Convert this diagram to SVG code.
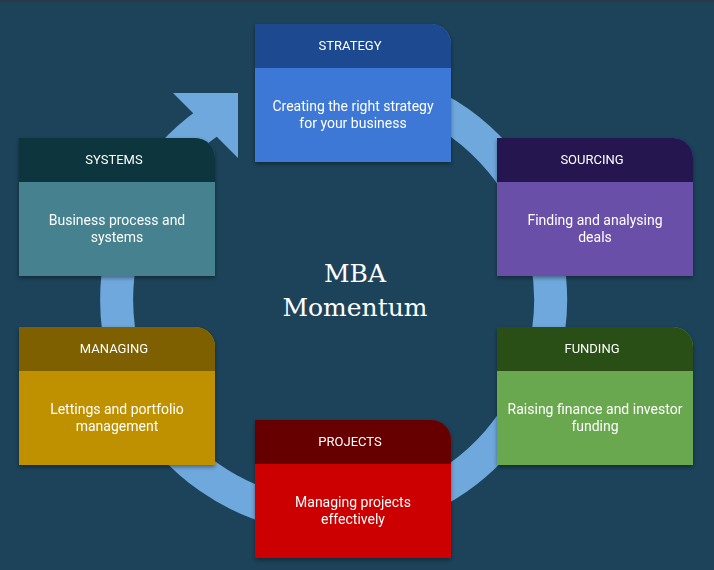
<svg xmlns="http://www.w3.org/2000/svg" width="714" height="570" viewBox="0 0 714 570">
<defs>
<filter id="sh" x="-10%" y="-10%" width="120%" height="130%"><feDropShadow dx="0" dy="2" stdDeviation="2" flood-color="#000" flood-opacity="0.4"/></filter>
</defs>
<style>
.h{font-family:Roboto,"Liberation Sans",sans-serif;font-size:13px;fill:#fff;text-anchor:middle}
.b{font-family:Roboto,"Liberation Sans",sans-serif;font-size:14px;fill:#fff;text-anchor:middle}
.t{font-family:"DejaVu Serif","Liberation Serif",serif;font-size:25px;fill:#fff;text-anchor:middle}
</style>
<rect width="714" height="570" fill="#1c435a"/>
<rect width="714" height="2" fill="#2a3a44"/>
<g id="connectors">
<path d="M 208.1 122.6 A 217 217 0 1 0 316.3 83.3" fill="none" stroke="#6fa8dc" stroke-width="33"/>
<polygon points="173,93 238,93 238,158" fill="#6fa8dc"/>
</g>
<text class="t" x="355" y="282">MBA</text>
<text class="t" x="355" y="316">Momentum</text>
<g id="strategy" filter="url(#sh)">
<path d="M255 24 H431 A20 20 0 0 1 451 44 V162 H255 Z" fill="#3d78d6"/>
<path d="M255 24 H431 A20 20 0 0 1 451 44 V68 H255 Z" fill="#1f4a8f"/>
<text class="h" x="350" y="50">STRATEGY</text>
<text class="b" x="353" y="111">Creating the right strategy</text>
<text class="b" x="353" y="128">for your business</text>
</g>
<g id="sourcing" filter="url(#sh)">
<path d="M497 138 H673 A20 20 0 0 1 693 158 V276 H497 Z" fill="#6a4fa8"/>
<path d="M497 138 H673 A20 20 0 0 1 693 158 V182 H497 Z" fill="#25174f"/>
<text class="h" x="592" y="164">SOURCING</text>
<text class="b" x="595" y="225">Finding and analysing</text>
<text class="b" x="595" y="242">deals</text>
</g>
<g id="funding" filter="url(#sh)">
<path d="M497 327 H673 A20 20 0 0 1 693 347 V465 H497 Z" fill="#6aa84f"/>
<path d="M497 327 H673 A20 20 0 0 1 693 347 V371 H497 Z" fill="#2a5016"/>
<text class="h" x="592" y="353">FUNDING</text>
<text class="b" x="595" y="414">Raising finance and investor</text>
<text class="b" x="595" y="431">funding</text>
</g>
<g id="projects" filter="url(#sh)">
<path d="M255 420 H431 A20 20 0 0 1 451 440 V558 H255 Z" fill="#cc0000"/>
<path d="M255 420 H431 A20 20 0 0 1 451 440 V464 H255 Z" fill="#660000"/>
<text class="h" x="350" y="446">PROJECTS</text>
<text class="b" x="353" y="507">Managing projects</text>
<text class="b" x="353" y="524">effectively</text>
</g>
<g id="managing" filter="url(#sh)">
<path d="M19 327 H195 A20 20 0 0 1 215 347 V465 H19 Z" fill="#bf9000"/>
<path d="M19 327 H195 A20 20 0 0 1 215 347 V371 H19 Z" fill="#7f6000"/>
<text class="h" x="114" y="353">MANAGING</text>
<text class="b" x="117" y="414">Lettings and portfolio</text>
<text class="b" x="117" y="431">management</text>
</g>
<g id="systems" filter="url(#sh)">
<path d="M19 138 H195 A20 20 0 0 1 215 158 V276 H19 Z" fill="#45818e"/>
<path d="M19 138 H195 A20 20 0 0 1 215 158 V182 H19 Z" fill="#0c343d"/>
<text class="h" x="114" y="164">SYSTEMS</text>
<text class="b" x="117" y="225">Business process and</text>
<text class="b" x="117" y="242">systems</text>
</g>
</svg>
